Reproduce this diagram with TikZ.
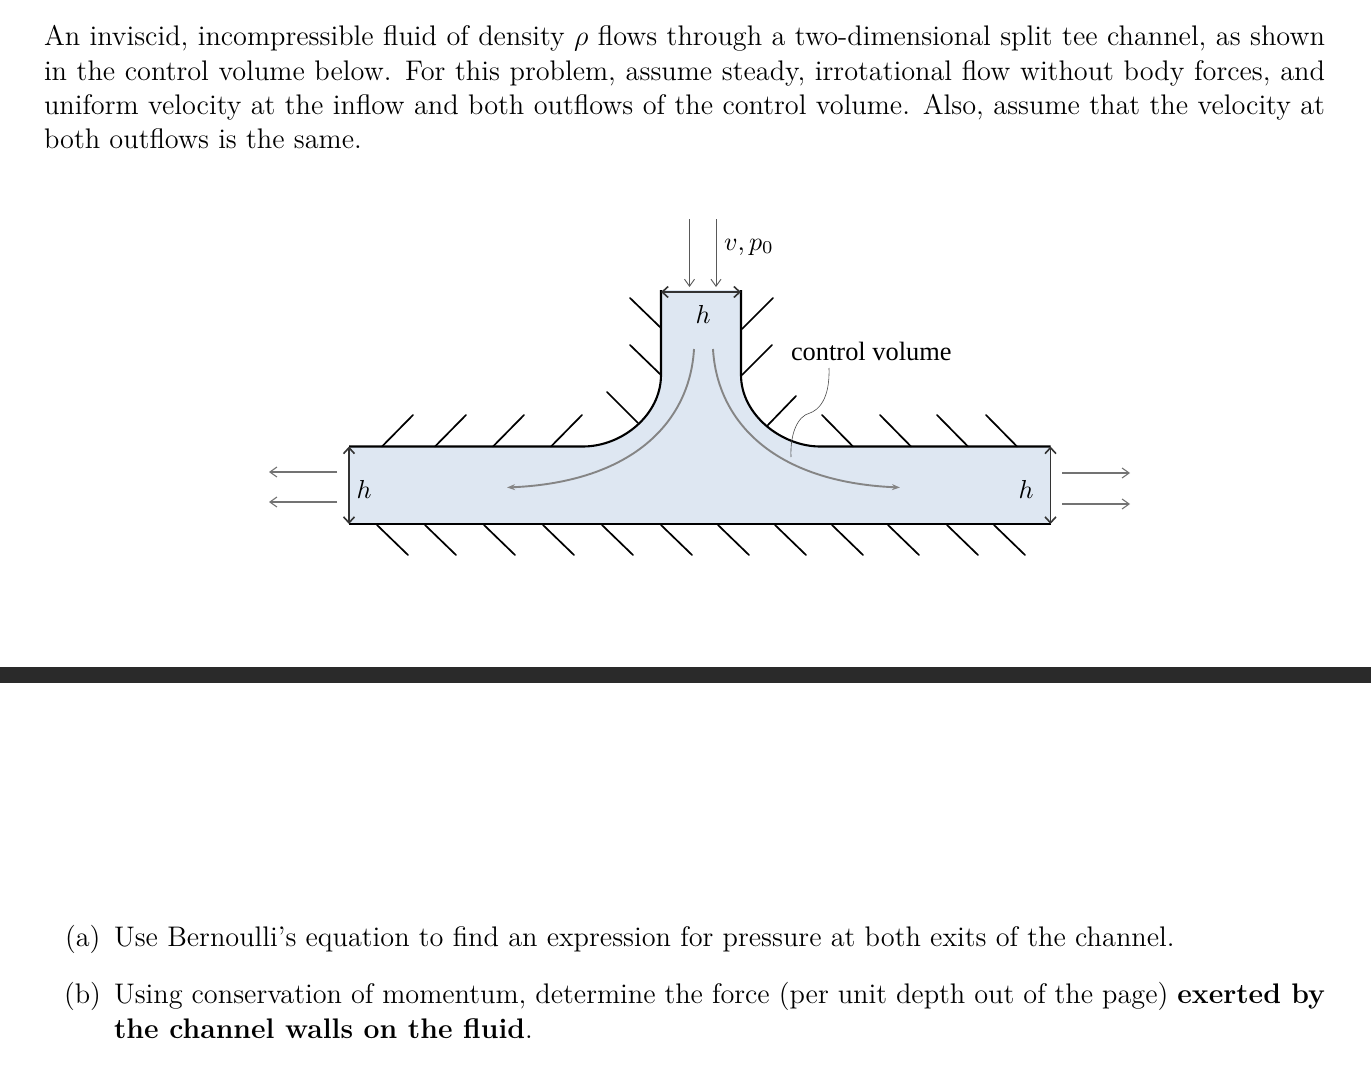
\documentclass[tikz,border=0pt]{standalone}
\usepackage{fontspec}
\newfontfamily\figfont{Liberation Serif}
\usetikzlibrary{arrows.meta}
\definecolor{fluid}{HTML}{DEE7F2}
\definecolor{band}{HTML}{2A2A2A}
\definecolor{flowgray}{HTML}{858585}
\newcommand{\bt}[1]{\scalebox{2.36}{\fontsize{12}{14.5}\selectfont #1}}
\newcommand{\mt}[1]{\scalebox{2.6}{\fontsize{10}{12}\selectfont #1}}
\tikzset{
  every node/.style={inner sep=0pt,outer sep=0pt},
  txt/.style={anchor=base west},
  figtxt/.style={font=\figfont\fontsize{26.4}{30}\selectfont},
  wall/.style={line width=2.1pt,black},
  hatch/.style={line width=1.7pt,black,line cap=round},
  dim/.style={line width=1.6pt,{Straight Barb[length=6pt,width=11pt]}-{Straight Barb[length=6pt,width=11pt]},black!80},
  inflow/.style={line width=0.9pt,-{Straight Barb[length=7pt,width=10pt]},black!65},
  outflow/.style={line width=1.1pt,-{Straight Barb[length=7pt,width=10pt]},black!55},
  stream/.style={line width=1.9pt,flowgray,-{Stealth[length=8pt,width=6pt]}},
}
\begin{document}
\begin{tikzpicture}[x=1pt,y=-1pt]
\path[use as bounding box,fill=white] (0,0) rectangle (1371,1070);
% text
\node[txt] (l1) at (44,46) {\bt{\makebox[542.8pt][s]{An inviscid, incompressible fluid of density $\rho$ flows through a two-dimensional split tee channel, as shown}}};
\node[txt] (l2) at (44,80.5) {\bt{\makebox[542.8pt][s]{in the control volume below. For this problem, assume steady, irrotational flow without body forces, and}}};
\node[txt] (l3) at (44,115) {\bt{\makebox[542.8pt][s]{uniform velocity at the inflow and both outflows of the control volume. Also, assume that the velocity at}}};
\node[txt] (l4) at (44,149) {\bt{both outflows is the same.}};
\node[txt] (qa) at (65,946) {\bt{(a)}};
\node[txt] (qat) at (114,946) {\bt{Use Bernoulli's equation to find an expression for pressure at both exits of the channel.}};
\node[txt] (qb) at (64,1003) {\bt{(b)}};
\node[txt] (qbt) at (114,1003) {\bt{\makebox[513.1pt][s]{Using conservation of momentum, determine the force (per unit depth out of the page) \textbf{exerted by}}}};
\node[txt] (qbu) at (114,1038) {\bt{\textbf{the channel walls on the fluid}.}};
% band
\fill[band] (0,667) rectangle (1371,683);
% corners
\coordinate (TL) at (661,290);
\coordinate (TR) at (741,290);
\coordinate (DL) at (661,292);
\coordinate (DR) at (741,292);
\coordinate (LT) at (349,446.5);
\coordinate (LB) at (349,524);
\coordinate (RT) at (1050.5,446.5);
\coordinate (RB) at (1050.5,524);
% fluid
\fill[fluid] (TL) -- (661,375) .. controls (661,415) and (622,446.5) .. (583,446.5) -- (LT) -- (LB) -- (RB) -- (RT) -- (820,446.5) .. controls (782,446.5) and (741,415) .. (741,375) -- (TR) -- cycle;
% walls
\draw[wall] (TL) -- (661,375) .. controls (661,415) and (622,446.5) .. (583,446.5) -- (LT);
\draw[wall] (TR) -- (741,375) .. controls (741,415) and (782,446.5) .. (820,446.5) -- (RT);
\draw[wall] (LB) -- (RB);
% hatches
\foreach \xa/\ya/\xb/\yb in {630/298/661/328, 630/345/661/375, 607/392/638/423, 773/298/742/329, 772/345/742/375, 796/396/767/426}
  \draw[hatch] (\xa,\ya) -- (\xb,\yb);
\foreach \b in {382,435,493,551}
  \draw[hatch] (\b+31,415) -- (\b,446.5);
\foreach \b in {822,880,937,986}
  \draw[hatch] (\b,415) -- (\b+31,446.5);
\foreach \b in {377,425,484,543,602,661,718,775,832,888,947,994}
  \draw[hatch] (\b,525) -- (\b+31,555);
% dimension arrows
\draw[dim] (DL) -- (DR);
\draw[dim] (LT) -- (LB);
\draw[dim] (RT) -- (RB);
% flows
\coordinate (ia1) at (689.5,219); \coordinate (ib1) at (689.5,287);
\coordinate (ia2) at (716,219);   \coordinate (ib2) at (716,287);
\draw[inflow] (ia1) -- (ib1);
\draw[inflow] (ia2) -- (ib2);
\coordinate (oa1) at (337,472); \coordinate (ob1) at (269,472);
\coordinate (oa2) at (337,502); \coordinate (ob2) at (269,502);
\coordinate (oa3) at (1062,473); \coordinate (ob3) at (1130,473);
\coordinate (oa4) at (1062,504); \coordinate (ob4) at (1130,504);
\draw[outflow] (oa1) -- (ob1);
\draw[outflow] (oa2) -- (ob2);
\draw[outflow] (oa3) -- (ob3);
\draw[outflow] (oa4) -- (ob4);
% streamlines
\draw[stream] (694,349) .. controls (690,420) and (635,482) .. (507,487.5);
\draw[stream] (713,349) .. controls (717,420) and (772,482) .. (900,487.5);
% labels
\node (hT) at (703,314) {\mt{$h$}};
\node (hL) at (364,489) {\mt{$h$}};
\node (hR) at (1026,489) {\mt{$h$}};
\node[anchor=west] (vp) at (724,247) {\mt{$v,p_0$}};
\node[figtxt,anchor=base west] (cv) at (791,360) {control volume};
% leader
\coordinate (lead) at (791,457);
\draw[line width=0.6pt,black!70] (829,368) .. controls (830,400) and (818,410) .. (810,413) .. controls (797,416) and (790,435) .. (lead);
\end{tikzpicture}
\end{document}
